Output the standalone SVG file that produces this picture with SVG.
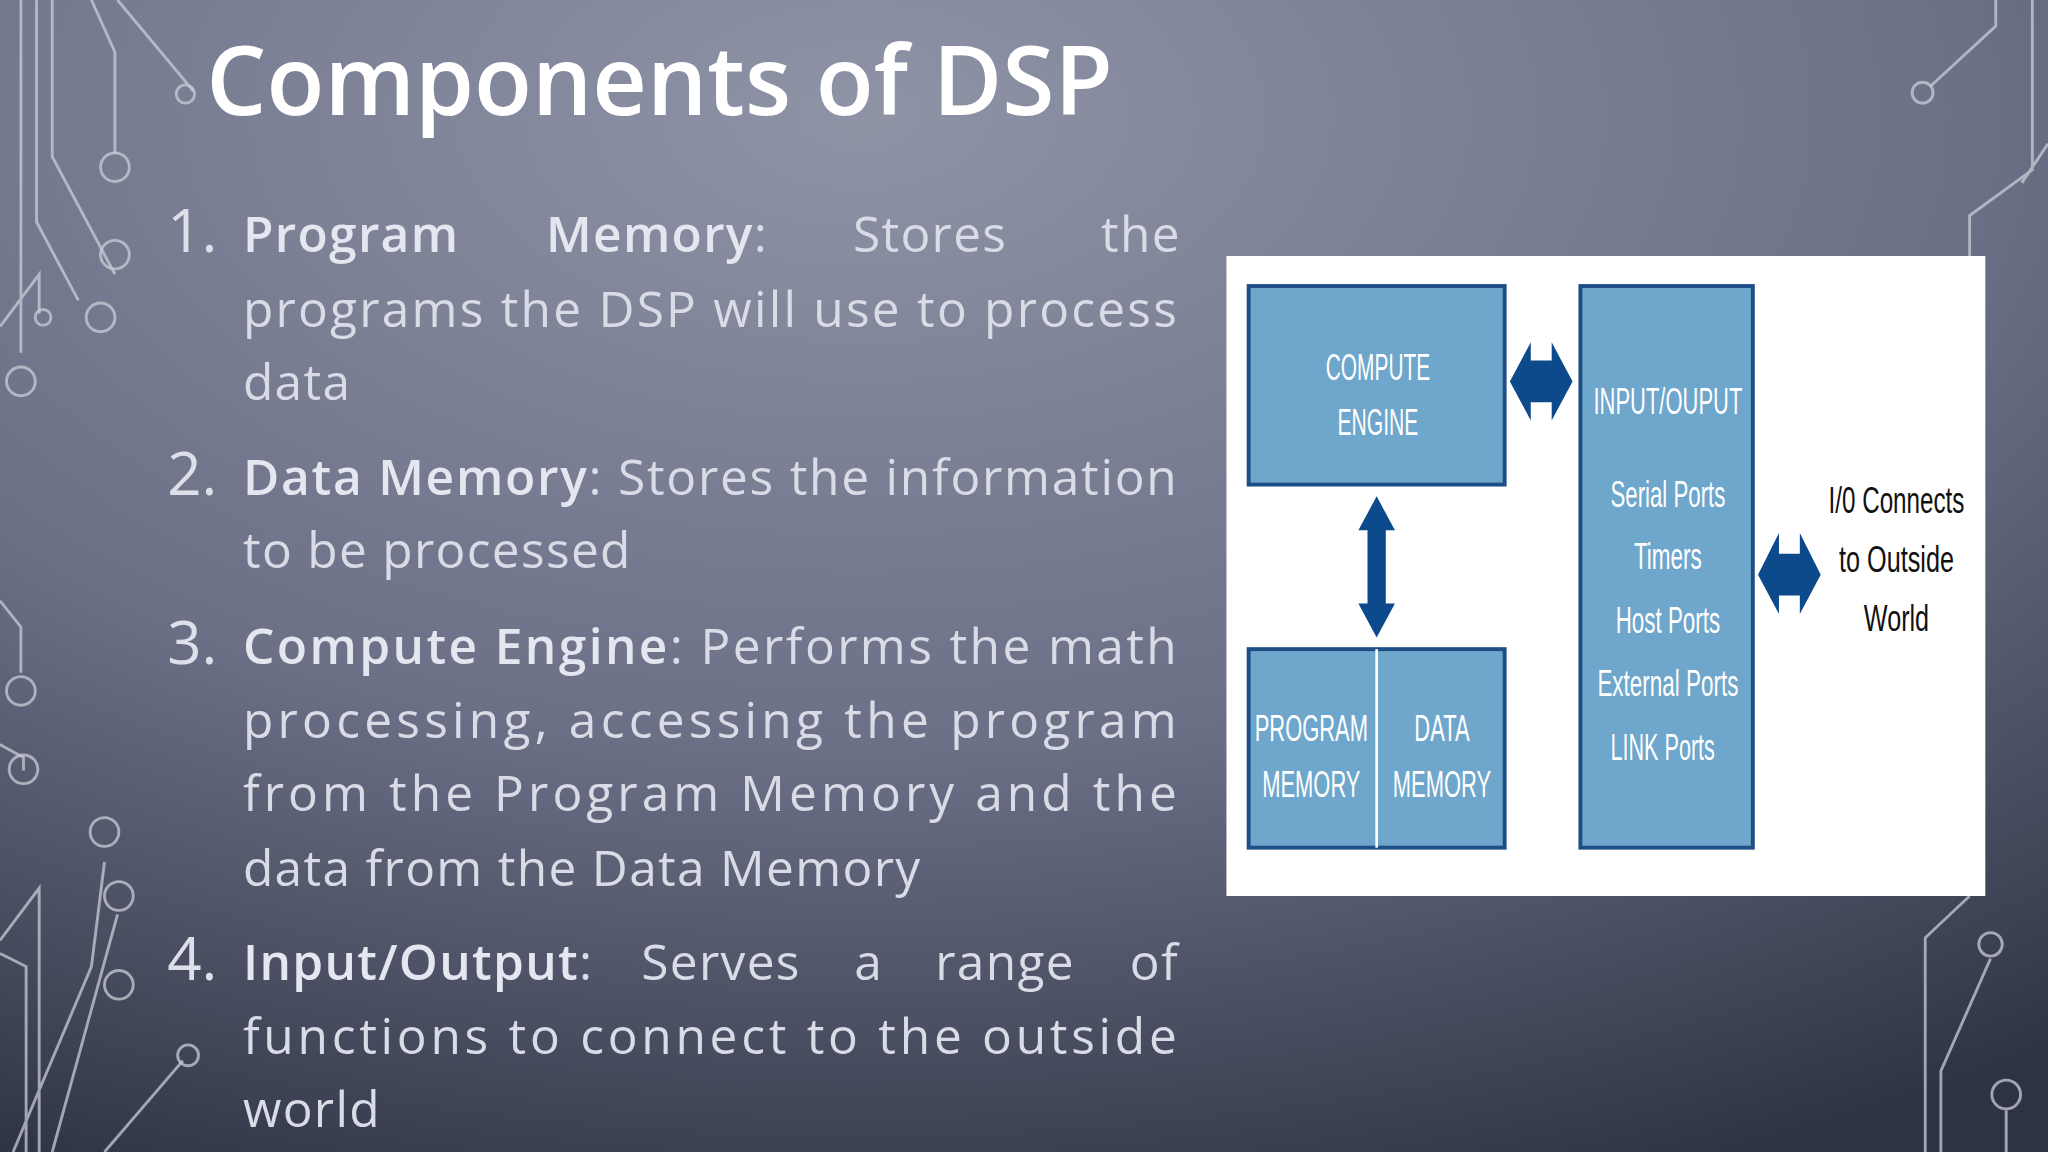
<svg xmlns="http://www.w3.org/2000/svg" width="2048" height="1152" viewBox="0 0 2048 1152">
<defs>
<radialGradient id="bg" cx="0.42" cy="0.1" r="1.0">
<stop offset="0" stop-color="#8f93a6"/><stop offset="0.55" stop-color="#6b7087"/><stop offset="1" stop-color="#2e3344"/>
</radialGradient>
<style>
.c{fill:none;stroke:#c9ccd6;stroke-width:2.2;opacity:.75}
.t{font-family:"Open Sans","Noto Sans",sans-serif;font-size:38px;fill:#d9dce6;letter-spacing:1px}
.b{font-weight:600;fill:#e4e7ef}
.n{font-family:"Open Sans",sans-serif;font-size:46px;fill:#dde0e9}
.box{fill:#6ea6cc;stroke:#1f4e86;stroke-width:3}
.bt{font-family:"Liberation Sans",sans-serif;font-size:28px;fill:#fff;text-anchor:middle}
.k{fill:#111}
.arr{fill:#0d4a8c}
</style>
</defs>
<g transform="scale(1.306122)">
<rect width="1568" height="882" fill="url(#bg)"/>
<g id="circuits">
<path class="c" d="M16 0V270M28 0V170L60 230M40 0V120L88 210M70 0L88 40V118M90 0L140 60L148 70M0 250L30 210V240M0 460L16 480V515M0 570L18 580V590M0 720L30 680V882M10 882L70 740L80 660M40 882L90 700M80 882L140 812M0 730L20 740V882"/>
<circle class="c" cx="142" cy="72" r="7"/><circle class="c" cx="88" cy="128" r="11"/><circle class="c" cx="88" cy="195" r="11"/><circle class="c" cx="77" cy="243" r="11"/><circle class="c" cx="33" cy="243" r="6"/><circle class="c" cx="16" cy="292" r="11"/><circle class="c" cx="16" cy="529" r="11"/><circle class="c" cx="18" cy="589" r="11"/><circle class="c" cx="80" cy="637" r="11"/><circle class="c" cx="91" cy="686" r="11"/><circle class="c" cx="91" cy="754" r="11"/><circle class="c" cx="144" cy="808" r="8"/>
<path class="c" d="M1528 0V20L1478 66M1556 0V130L1508 165V196M1568 110L1548 140M1508 686L1474 718V882M1524 734L1486 820V882M1536 850V882"/>
<circle class="c" cx="1472" cy="71" r="8"/><circle class="c" cx="1524" cy="723" r="9"/><circle class="c" cx="1536" cy="838" r="11"/>
</g>
<text x="158" y="88" font-family="'Open Sans','Noto Sans',sans-serif" font-size="74" font-weight="600" fill="#fff" textLength="694" lengthAdjust="spacingAndGlyphs">Components of DSP</text>
<g id="list">
<text class="n" x="128" y="193">1.</text>
<text class="t b" x="186" y="193">Program</text><text class="t" x="418" y="193"><tspan class="b">Memory</tspan>:</text><text class="t" x="653" y="193">Stores</text><text class="t" x="843" y="193">the</text>
<text class="t" x="186" y="250" textLength="716">programs the DSP will use to process</text>
<text class="t" x="186" y="306">data</text>
<text class="n" x="128" y="379">2.</text>
<text class="t" x="186" y="379" textLength="716"><tspan class="b">Data Memory</tspan>: Stores the information</text>
<text class="t" x="186" y="435">to be processed</text>
<text class="n" x="128" y="508">3.</text>
<text class="t" x="186" y="508" textLength="716"><tspan class="b">Compute Engine</tspan>: Performs the math</text>
<text class="t" x="186" y="565" textLength="716">processing, accessing the program</text>
<text class="t" x="186" y="621" textLength="716">from the Program Memory and the</text>
<text class="t" x="186" y="678">data from the Data Memory</text>
<text class="n" x="128" y="750">4.</text>
<text class="t" x="186" y="750"><tspan class="b">Input/Output</tspan>:</text><text class="t" x="491" y="750">Serves</text><text class="t" x="654" y="750">a</text><text class="t" x="716" y="750">range</text><text class="t" x="865" y="750">of</text>
<text class="t" x="186" y="807" textLength="716">functions to connect to the outside</text>
<text class="t" x="186" y="863">world</text>
</g>
<rect x="939" y="196" width="581" height="490" fill="#fff"/>
<g id="compute"><rect class="box" x="956" y="219" width="196" height="152"/><text class="bt" x="1055" y="291" textLength="80" lengthAdjust="spacingAndGlyphs">COMPUTE</text><text class="bt" x="1055" y="333" textLength="62" lengthAdjust="spacingAndGlyphs">ENGINE</text></g>
<g id="memory"><rect class="box" x="956" y="497" width="196" height="152"/><line x1="1054" y1="497" x2="1054" y2="649" stroke="#fff" stroke-width="2"/>
<text class="bt" transform="translate(1004,567) scale(0.6,1)">PROGRAM</text><text class="bt" transform="translate(1004,610) scale(0.6,1)">MEMORY</text><text class="bt" transform="translate(1104,567) scale(0.6,1)">DATA</text><text class="bt" transform="translate(1104,610) scale(0.6,1)">MEMORY</text></g>
<g id="io"><rect class="box" x="1210" y="219" width="132" height="430"/>
<text class="bt" x="1277" y="317" textLength="114" lengthAdjust="spacingAndGlyphs">INPUT/OUPUT</text><text class="bt" x="1277" y="388" textLength="88" lengthAdjust="spacingAndGlyphs">Serial Ports</text><text class="bt" x="1277" y="436" textLength="52" lengthAdjust="spacingAndGlyphs">Timers</text><text class="bt" x="1277" y="485" textLength="80" lengthAdjust="spacingAndGlyphs">Host Ports</text><text class="bt" x="1277" y="533" textLength="108" lengthAdjust="spacingAndGlyphs">External Ports</text><text class="bt" x="1273" y="582" textLength="80" lengthAdjust="spacingAndGlyphs">LINK Ports</text></g>
<g id="outside"><text class="bt k" x="1452" y="393" textLength="104" lengthAdjust="spacingAndGlyphs">I/0 Connects</text><text class="bt k" x="1452" y="438" textLength="88" lengthAdjust="spacingAndGlyphs">to Outside</text><text class="bt k" x="1452" y="483" textLength="50" lengthAdjust="spacingAndGlyphs">World</text></g>
<g id="connectors">
<polygon class="arr" points="1156,292 1172,262 1172,276 1188,276 1188,262 1204,292 1188,322 1188,308 1172,308 1172,322"/>
<polygon class="arr" points="1054,380 1068,406 1061,406 1061,462 1068,462 1054,488 1040,462 1047,462 1047,406 1040,406"/>
<polygon class="arr" points="1346,440 1362,408 1362,424 1378,424 1378,408 1394,440 1378,470 1378,456 1362,456 1362,470"/>
</g>
</g>
</svg>
